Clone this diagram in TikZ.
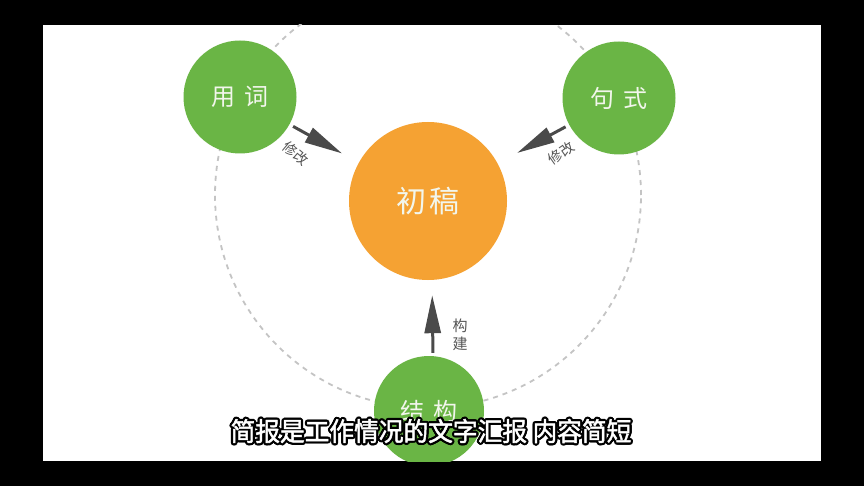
\documentclass[tikz,border=0pt]{standalone}
\usepackage{fontspec}
\newfontfamily\cjk{Noto Sans CJK SC}
\newfontfamily\cjkb[FakeBold=1.8]{Noto Sans CJK SC}
\usetikzlibrary{arrows.meta}
\definecolor{leaf}{HTML}{6AB545}
\definecolor{amber}{HTML}{F5A233}
\definecolor{ringgrey}{HTML}{C4C4C4}
\definecolor{arrowgrey}{HTML}{4A4A4A}
\definecolor{labelgrey}{HTML}{555555}
\definecolor{disctext}{HTML}{F2F6EC}
\tikzset{
  disc/.style={circle, inner sep=0pt, text=disctext},
  ring/.style={draw=ringgrey, line width=1.8pt, dash pattern=on 5pt off 5pt},
  flow/.style={draw=arrowgrey, line width=3pt, -{Triangle[length=38pt,width=16pt]}},
  small/.style={text=labelgrey, inner sep=0pt, font=\cjk\fontsize{14}{14}\selectfont},
  sub/.style={inner sep=0pt, font=\cjkb\fontsize{26}{26}\selectfont, xscale=0.95}
}
\begin{document}
\begin{tikzpicture}[x=1pt,y=-1pt]
\useasboundingbox (0,0) rectangle (864,486);
\fill[black] (0,0) rectangle (864,486);
\fill[white] (43,25) rectangle (821,461);
\begin{scope}
\clip (43,25) rectangle (821,461);
\draw[ring] (428,195) circle[radius=213pt];
\node[disc, fill=amber, minimum size=158pt, font=\cjk\fontsize{30}{30}\selectfont] (chugao) at (428,201) {初\hspace{4pt}稿};
\node[disc, fill=leaf, minimum size=113pt, font=\cjk\fontsize{24}{24}\selectfont] (yongci) at (240,97) {用\hspace{9pt}词};
\node[disc, fill=leaf, minimum size=113pt, font=\cjk\fontsize{24}{24}\selectfont] (jushi) at (619,98) {句\hspace{9pt}式};
\node[disc, fill=leaf, minimum size=110pt, font=\cjk\fontsize{24}{24}\selectfont] (jiegou) at (429,411) {结\hspace{9pt}构};
\draw[flow, shorten <=4pt, shorten >=19pt] (yongci) -- (chugao);
\draw[flow, shorten <=4pt, shorten >=22pt] (jushi) -- (chugao);
\draw[flow, shorten <=3pt, shorten >=15pt] ([xshift=4pt]jiegou.north) -- ([xshift=4pt]chugao.south);
\node[small, rotate=-40] (lab1) at (296,153) {修改};
\node[small, rotate=35] (lab2) at (561,153) {修改};
\node[small, align=center, font=\cjk\fontsize{15}{18}\selectfont] (lab3) at (460,335) {构\\建};
\foreach \a in {0,30,...,330}{
  \node[sub, text=black] (subshadow\a) at ([shift={(\a:2.2pt)}]431,431) {简报是工作情况的文字汇报 内容简短};
}
\node[sub, text=white] (subtitle) at (431,431) {简报是工作情况的文字汇报 内容简短};
\end{scope}
\end{tikzpicture}
\end{document}
